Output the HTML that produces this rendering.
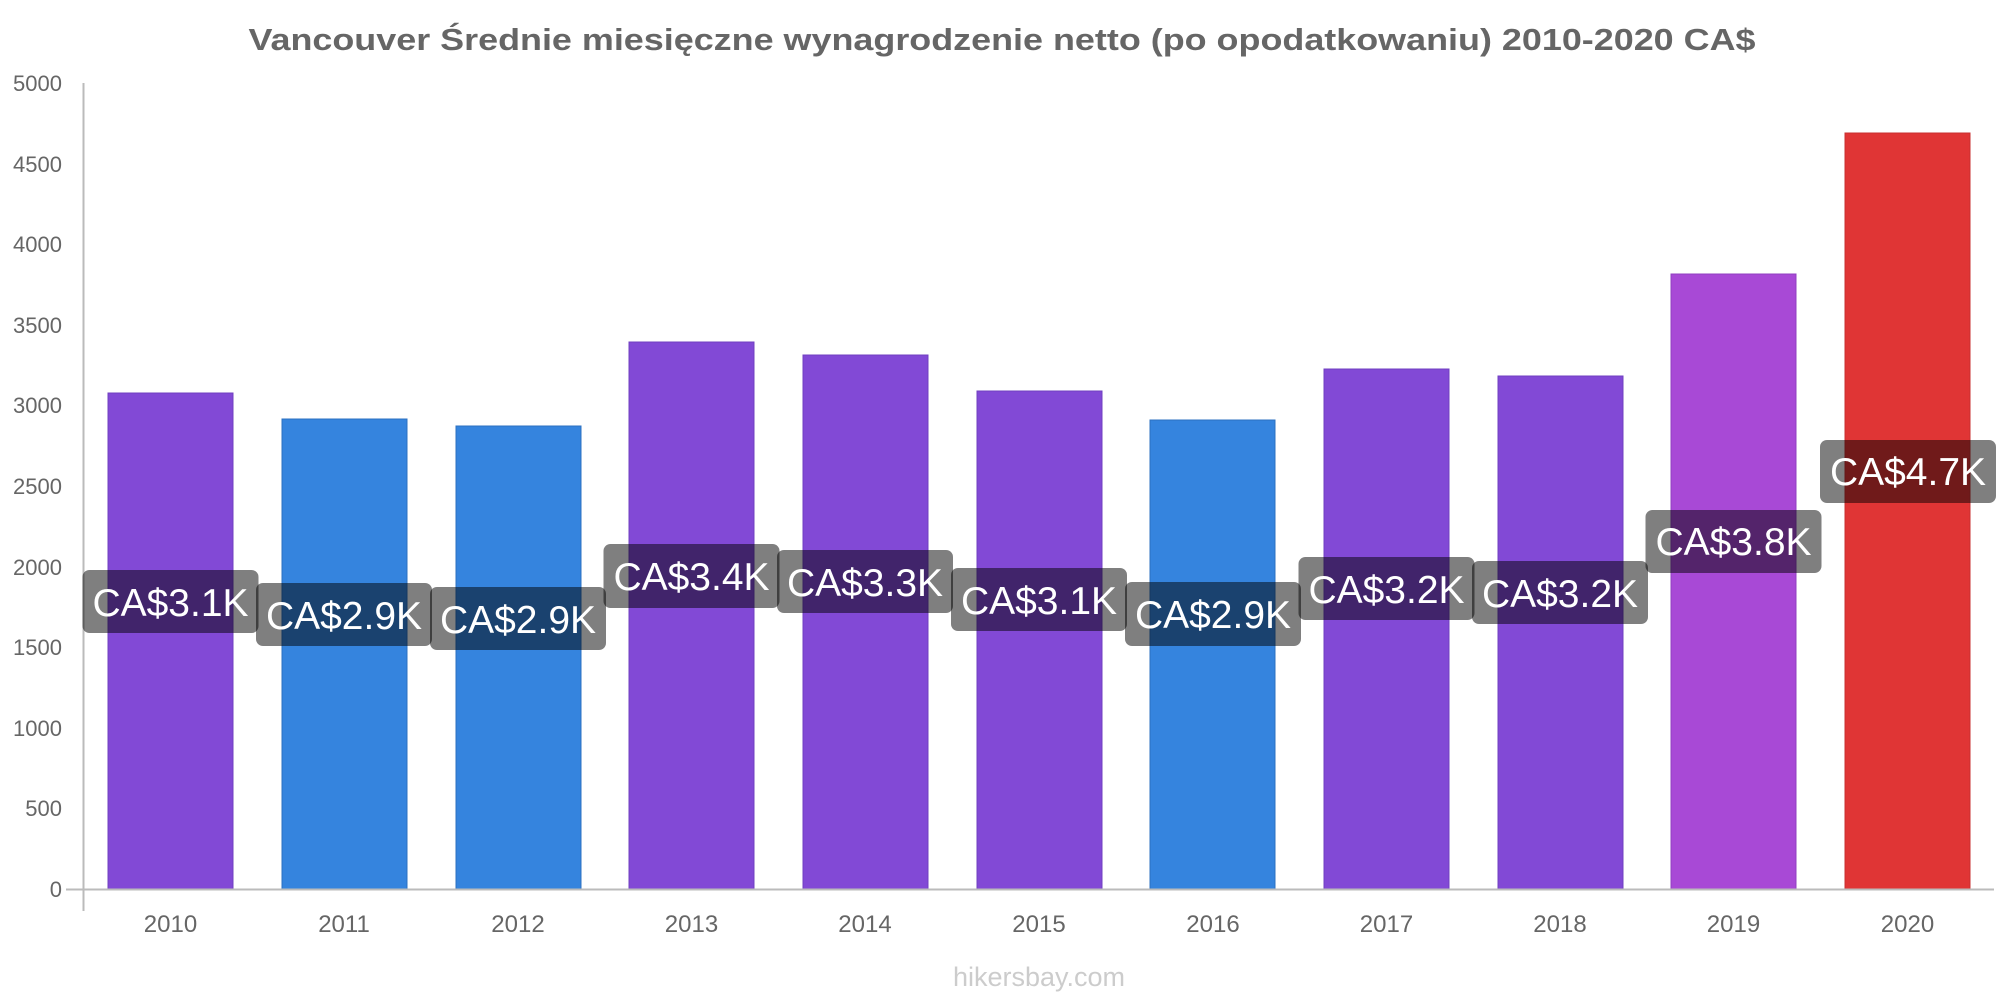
<!DOCTYPE html>
<html><head><meta charset="utf-8"><style>
html,body{margin:0;padding:0;background:#fff;}
svg{display:block;font-family:"Liberation Sans",sans-serif;}
</style></head><body>
<svg width="2000" height="1000" viewBox="0 0 2000 1000" xmlns="http://www.w3.org/2000/svg">
<text x="1002" y="50" text-anchor="middle" font-size="31" font-weight="bold" fill="#666" textLength="1507" lengthAdjust="spacingAndGlyphs">Vancouver Średnie miesięczne wynagrodzenie netto (po opodatkowaniu) 2010-2020 CA$</text>
<g font-size="22" fill="#666" text-anchor="end">
<text x="62" y="91">5000</text><text x="62" y="172">4500</text><text x="62" y="252">4000</text><text x="62" y="333">3500</text><text x="62" y="413">3000</text><text x="62" y="494">2500</text><text x="62" y="575">2000</text><text x="62" y="655">1500</text><text x="62" y="736">1000</text><text x="62" y="816">500</text><text x="62" y="897">0</text>
</g>
<line x1="83.5" y1="83" x2="83.5" y2="911" stroke="#bbb" stroke-width="2"/>
<line x1="66" y1="889.5" x2="84" y2="889.5" stroke="#bbb" stroke-width="2"/>
<g>
<rect x="108" y="393" width="125" height="496" fill="#8249d6" stroke="#7040c0" stroke-width="1"/>
<rect x="282" y="419" width="125" height="470" fill="#3584de" stroke="#2c70c0" stroke-width="1"/>
<rect x="456" y="426" width="125" height="463" fill="#3584de" stroke="#2c70c0" stroke-width="1"/>
<rect x="629" y="342" width="125" height="547" fill="#8249d6" stroke="#7040c0" stroke-width="1"/>
<rect x="803" y="355" width="125" height="534" fill="#8249d6" stroke="#7040c0" stroke-width="1"/>
<rect x="977" y="391" width="125" height="498" fill="#8249d6" stroke="#7040c0" stroke-width="1"/>
<rect x="1150" y="420" width="125" height="469" fill="#3584de" stroke="#2c70c0" stroke-width="1"/>
<rect x="1324" y="369" width="125" height="520" fill="#8249d6" stroke="#7040c0" stroke-width="1"/>
<rect x="1498" y="376" width="125" height="513" fill="#8249d6" stroke="#7040c0" stroke-width="1"/>
<rect x="1671" y="274" width="125" height="615" fill="#a849d6" stroke="#9040c0" stroke-width="1"/>
<rect x="1845" y="133" width="125" height="756" fill="#e03535" stroke="#c83030" stroke-width="1"/>
</g>
<line x1="84" y1="889.5" x2="1994" y2="889.5" stroke="#bbb" stroke-width="2"/>
<g font-size="24" fill="#666" text-anchor="middle">
<text x="170.5" y="932">2010</text><text x="344" y="932">2011</text><text x="518" y="932">2012</text><text x="691.5" y="932">2013</text><text x="865" y="932">2014</text><text x="1039" y="932">2015</text><text x="1213" y="932">2016</text><text x="1386.5" y="932">2017</text><text x="1560" y="932">2018</text><text x="1733.5" y="932">2019</text><text x="1907.5" y="932">2020</text>
</g>
<g fill="rgba(0,0,0,0.5)">
<rect x="82.5" y="570" width="176" height="63" rx="7"/>
<rect x="256" y="583" width="176" height="63" rx="7"/>
<rect x="430" y="587" width="176" height="63" rx="7"/>
<rect x="603.5" y="544" width="176" height="64" rx="7"/>
<rect x="777" y="550" width="176" height="63" rx="7"/>
<rect x="951" y="568" width="176" height="63" rx="7"/>
<rect x="1125" y="582" width="176" height="64" rx="7"/>
<rect x="1298.5" y="557" width="176" height="63" rx="7"/>
<rect x="1472" y="561" width="176" height="63" rx="7"/>
<rect x="1645.5" y="510" width="176" height="63" rx="7"/>
<rect x="1820" y="440" width="176" height="63" rx="7"/>
</g>
<g font-size="39" fill="#fff" text-anchor="middle">
<text x="170.5" y="616">CA$3.1K</text>
<text x="344" y="629">CA$2.9K</text>
<text x="518" y="633">CA$2.9K</text>
<text x="691.5" y="590">CA$3.4K</text>
<text x="865" y="596">CA$3.3K</text>
<text x="1039" y="614">CA$3.1K</text>
<text x="1213" y="628">CA$2.9K</text>
<text x="1386.5" y="603">CA$3.2K</text>
<text x="1560" y="607">CA$3.2K</text>
<text x="1733.5" y="555">CA$3.8K</text>
<text x="1908" y="485">CA$4.7K</text>
</g>
<text x="1039" y="986" text-anchor="middle" font-size="27" fill="#ccc">hikersbay.com</text>
</svg>
</body></html>
